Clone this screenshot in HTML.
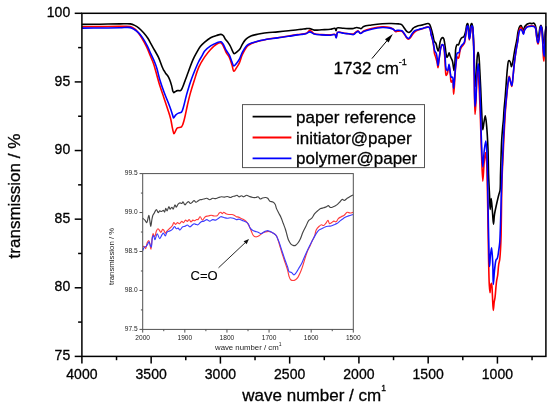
<!DOCTYPE html>
<html><head><meta charset="utf-8"><title>FTIR spectra</title>
<style>html,body{margin:0;padding:0;background:#fff;}svg{display:block;}text{font-family:"Liberation Sans",Arial,Helvetica,sans-serif;fill:#000;stroke:#000;stroke-width:0.3px;}.ins text,text.ins{stroke:none;}</style>
</head><body>
<svg width="550" height="407" viewBox="0 0 550 407">
<rect x="0" y="0" width="550" height="407" fill="#fff"/>
<g fill="none" stroke-linejoin="round" stroke-linecap="round">
<path d="M82.50,24.40C85.42,24.37 93.97,24.28 100.00,24.20C106.44,24.11 114.43,23.94 120.00,23.90C124.00,23.87 127.61,23.45 130.30,23.90C132.10,24.20 133.27,24.71 134.70,25.40C136.24,26.14 137.77,27.14 139.20,28.30C140.74,29.55 142.21,31.12 143.60,32.70C145.05,34.34 146.47,36.14 147.70,38.00C148.94,39.87 149.87,41.88 151.00,43.90C152.20,46.04 153.47,48.29 154.70,50.50C155.94,52.72 157.24,54.73 158.40,57.20C159.74,60.05 161.14,64.41 162.10,66.70C162.66,68.02 163.01,68.90 163.50,69.80C163.91,70.56 164.38,71.13 164.80,71.80C165.21,72.46 165.53,73.16 166.00,73.80C166.49,74.47 167.16,74.91 167.70,75.70C168.41,76.75 169.09,78.21 169.70,79.70C170.42,81.45 171.05,83.62 171.60,85.60C172.15,87.56 172.47,90.34 173.00,91.50C173.25,92.05 173.47,92.54 173.80,92.60C174.14,92.66 174.52,92.08 175.00,91.80C175.67,91.42 176.60,90.80 177.50,90.60C178.43,90.39 179.69,91.04 180.50,90.60C181.40,90.11 181.84,88.81 182.50,87.50C183.49,85.53 184.42,82.31 185.40,79.70C186.39,77.07 187.57,74.08 188.40,71.80C189.03,70.07 189.37,68.91 190.00,67.20C190.81,65.02 191.87,62.10 192.90,59.80C193.84,57.70 194.77,55.96 195.90,53.90C197.19,51.55 198.69,48.57 200.30,46.50C201.67,44.74 203.07,43.51 204.70,42.10C206.47,40.57 208.55,38.82 210.60,37.70C212.50,36.67 214.65,36.07 216.50,35.50C218.09,35.01 219.79,34.26 221.00,34.40C221.88,34.50 222.54,34.89 223.20,35.50C224.07,36.31 224.57,37.99 225.40,39.20C226.26,40.46 227.43,41.65 228.30,42.90C229.12,44.08 229.80,45.16 230.50,46.50C231.31,48.05 232.06,50.42 232.80,51.70C233.28,52.52 233.58,53.48 234.20,53.60C234.96,53.74 236.25,52.47 237.20,51.70C238.23,50.86 239.27,49.87 240.10,48.70C241.00,47.43 241.46,45.74 242.30,44.30C243.18,42.80 244.21,41.10 245.30,39.90C246.23,38.87 247.25,38.11 248.30,37.40C249.32,36.72 250.32,36.15 251.50,35.70C252.82,35.19 254.35,34.95 255.90,34.60C257.63,34.21 259.57,33.82 261.40,33.50C263.20,33.19 264.68,32.93 266.80,32.70C269.80,32.37 274.07,32.22 277.70,31.90C281.34,31.58 285.16,31.19 288.60,30.80C291.69,30.45 295.11,29.94 297.40,29.70C298.86,29.55 299.68,29.55 301.00,29.40C302.64,29.21 304.90,28.72 306.50,28.60C307.74,28.51 308.64,28.41 309.80,28.60C311.18,28.83 312.51,29.87 314.20,30.10C316.36,30.40 319.18,29.84 321.80,29.70C324.60,29.55 328.10,29.51 330.50,29.20C332.22,28.98 333.99,27.83 334.90,28.30C335.61,28.67 335.64,30.81 336.00,30.80C336.38,30.79 336.27,28.43 337.10,27.90C338.30,27.13 341.27,28.19 343.60,28.30C346.31,28.43 350.00,28.86 352.40,28.60C354.10,28.42 355.43,27.52 356.70,27.50C357.70,27.48 358.62,27.89 359.40,28.10C360.01,28.26 360.43,28.70 361.00,28.60C361.82,28.45 362.48,27.05 363.70,26.50C365.54,25.66 368.60,25.44 371.40,25.00C374.71,24.48 378.87,23.94 382.30,23.70C385.36,23.48 388.20,23.46 391.00,23.50C393.62,23.54 396.60,23.58 398.60,23.90C399.94,24.12 400.95,24.14 401.90,24.80C403.01,25.57 403.67,27.40 404.60,28.60C405.50,29.76 406.52,31.28 407.40,31.90C407.95,32.29 408.45,32.58 409.00,32.50C409.70,32.39 410.55,31.48 411.20,30.80C411.89,30.09 412.32,28.95 413.00,28.30C413.60,27.73 414.29,27.39 415.00,27.00C415.75,26.59 416.50,26.18 417.40,25.90C418.46,25.58 419.80,25.58 421.00,25.30C422.23,25.01 423.50,24.51 424.70,24.20C425.83,23.91 427.13,23.40 428.00,23.50C428.61,23.57 429.10,23.78 429.50,24.20C430.03,24.75 430.23,25.78 430.60,26.80C431.10,28.20 431.66,30.30 432.10,31.90C432.48,33.31 432.76,34.46 433.10,35.90C433.49,37.58 433.66,40.10 434.30,41.40C434.73,42.27 435.48,42.47 435.90,43.30C436.47,44.42 436.61,46.32 437.00,47.70C437.35,48.94 437.75,51.20 438.10,51.20C438.41,51.20 438.72,49.56 439.00,48.40C439.44,46.60 439.67,43.18 440.20,41.40C440.55,40.23 440.91,39.26 441.40,38.60C441.75,38.13 442.21,37.59 442.60,37.60C442.98,37.61 443.41,38.10 443.70,38.60C444.16,39.39 444.26,40.87 444.50,42.20C444.80,43.83 445.04,45.80 445.30,47.70C445.58,49.73 445.78,52.21 446.10,54.00C446.34,55.34 446.51,57.44 446.90,57.50C447.22,57.55 447.75,56.23 448.10,55.50C448.49,54.68 448.78,52.79 449.10,52.80C449.42,52.81 449.66,54.60 450.00,55.50C450.35,56.43 450.80,57.38 451.20,58.30C451.60,59.21 452.07,59.90 452.40,61.00C452.88,62.58 453.11,65.27 453.40,67.00C453.62,68.32 453.80,70.50 454.00,70.50C454.23,70.50 454.51,67.80 454.70,66.00C454.99,63.33 455.09,59.18 455.30,56.00C455.49,53.10 455.44,49.79 455.90,47.70C456.19,46.36 456.54,44.77 457.10,44.50C457.44,44.34 457.95,45.05 458.30,44.90C458.83,44.67 459.12,43.11 459.50,42.20C459.89,41.28 460.14,40.19 460.60,39.40C461.00,38.73 461.45,38.14 462.00,37.70C462.52,37.28 463.29,37.39 463.80,36.80C464.66,35.81 465.09,33.35 465.60,31.40C466.18,29.17 466.42,25.08 467.00,24.10C467.19,23.78 467.42,23.55 467.60,23.60C467.92,23.69 468.17,24.83 468.40,25.90C468.88,28.17 468.86,36.76 469.30,36.80C469.55,36.82 469.94,34.68 470.20,33.20C470.60,30.87 470.45,25.23 471.10,24.10C471.30,23.75 471.59,23.53 471.80,23.60C472.21,23.74 472.46,25.40 472.70,26.80C473.13,29.34 473.18,33.42 473.40,37.70C473.72,43.82 474.00,52.25 474.30,60.00C474.63,68.45 474.84,86.48 475.30,86.50C475.56,86.51 475.93,81.50 476.20,78.00C476.64,72.38 476.73,60.21 477.30,56.00C477.53,54.28 477.83,52.41 478.10,52.40C478.33,52.39 478.59,53.76 478.80,55.00C479.29,57.93 479.49,64.77 479.80,70.00C480.13,75.73 480.41,81.57 480.70,88.00C481.04,95.42 481.32,104.60 481.70,112.00C482.03,118.38 482.29,129.78 482.80,129.80C483.14,129.82 483.56,124.45 484.00,122.00C484.40,119.81 484.91,115.79 485.30,115.80C485.79,115.82 486.22,121.62 486.60,125.60C487.19,131.76 487.67,141.16 488.00,149.20C488.35,157.61 488.31,166.78 488.60,175.00C488.86,182.52 489.31,190.34 489.60,196.60C489.82,201.42 489.92,209.39 490.20,209.40C490.46,209.41 490.84,198.60 491.20,198.60C491.60,198.60 492.10,207.98 492.50,212.40C492.87,216.49 493.15,224.20 493.50,224.20C493.82,224.20 494.00,217.58 494.50,214.30C495.00,211.01 495.78,207.76 496.50,204.50C497.22,201.23 498.12,197.24 498.80,194.70C499.24,193.06 499.71,192.50 500.00,190.70C500.57,187.21 500.34,180.34 500.50,175.00C500.67,169.45 500.80,163.75 501.00,158.00C501.20,152.09 501.39,145.39 501.70,140.00C501.95,135.59 502.29,131.59 502.60,128.00C502.86,125.06 503.17,122.82 503.40,120.00C503.65,116.85 503.73,113.56 504.00,110.00C504.31,105.93 504.81,101.67 505.20,96.90C505.67,91.16 506.17,83.27 506.60,77.90C506.92,73.94 507.10,70.68 507.50,67.60C507.83,65.06 507.93,61.04 508.70,60.70C509.08,60.53 509.71,61.06 510.10,61.60C510.79,62.55 510.95,66.69 511.40,66.70C511.82,66.71 512.29,64.16 512.70,62.40C513.32,59.72 513.81,55.38 514.40,52.10C514.95,49.07 515.62,45.81 516.10,43.40C516.44,41.68 516.71,40.67 517.00,39.00C517.38,36.82 517.58,33.64 518.10,31.40C518.53,29.57 519.01,27.43 519.70,26.50C520.08,25.98 520.62,25.50 521.00,25.60C521.50,25.73 521.80,27.28 522.20,28.10C522.60,28.91 523.03,30.53 523.40,30.50C523.84,30.47 524.05,27.90 524.60,26.90C525.06,26.06 525.69,25.34 526.30,24.80C526.81,24.35 527.35,24.07 527.90,23.80C528.42,23.54 528.90,23.26 529.50,23.20C530.23,23.13 531.21,23.62 532.00,23.60C532.71,23.59 533.46,22.97 534.00,23.20C534.58,23.45 534.94,24.30 535.30,25.20C535.89,26.66 536.15,29.45 536.50,31.40C536.81,33.13 536.92,35.13 537.30,36.30C537.53,37.00 537.86,37.93 538.10,37.90C538.47,37.85 538.70,35.37 539.00,33.80C539.40,31.72 539.67,27.92 540.20,26.50C540.44,25.86 540.75,25.18 541.00,25.20C541.30,25.23 541.57,26.40 541.80,27.30C542.18,28.80 542.34,31.27 542.60,33.50C542.91,36.11 543.05,40.17 543.50,42.00C543.73,42.92 544.08,44.03 544.30,44.00C544.74,43.93 544.72,37.91 545.00,35.00C545.26,32.25 545.75,28.33 545.90,27.00" stroke="#000" stroke-width="1.6"/>
<path d="M82.50,26.70C85.42,26.68 93.97,26.65 100.00,26.60C106.44,26.55 114.43,26.37 120.00,26.40C124.00,26.42 127.65,25.90 130.30,26.60C132.15,27.09 133.37,27.98 134.70,29.00C136.08,30.06 137.25,31.46 138.40,32.90C139.63,34.44 140.61,36.04 141.80,38.00C143.32,40.51 145.17,43.82 146.60,46.80C148.00,49.72 149.13,52.88 150.30,55.70C151.36,58.25 152.52,60.84 153.30,63.00C153.90,64.67 154.26,66.01 154.70,67.50C155.13,68.95 155.38,69.96 155.90,71.80C156.83,75.10 158.43,81.20 159.80,85.60C161.07,89.70 162.48,93.46 163.80,97.40C165.12,101.33 166.50,105.44 167.70,109.20C168.79,112.61 169.88,115.70 170.70,119.00C171.51,122.27 171.95,126.19 172.60,128.90C173.06,130.83 173.43,133.74 174.00,133.80C174.46,133.85 175.02,131.78 175.60,130.80C176.19,129.81 176.58,128.55 177.50,127.90C178.50,127.19 180.44,127.86 181.50,126.90C183.02,125.54 183.52,122.03 184.40,119.00C185.54,115.07 186.38,109.61 187.40,105.20C188.35,101.11 189.19,97.44 190.30,93.40C191.50,89.06 192.97,84.40 194.40,80.00C195.81,75.67 197.01,71.16 198.80,67.20C200.48,63.49 202.61,59.98 204.70,56.90C206.57,54.15 208.53,51.67 210.60,49.50C212.48,47.52 214.55,45.40 216.50,44.30C218.01,43.45 219.85,42.53 221.00,42.90C222.01,43.22 222.49,44.59 223.20,45.80C224.20,47.51 225.03,50.45 226.10,52.40C227.02,54.09 228.20,55.12 229.10,56.90C230.23,59.15 231.16,62.46 232.00,65.00C232.73,67.22 233.04,71.15 233.90,71.30C234.59,71.42 235.56,69.17 236.40,67.90C237.39,66.39 238.49,64.75 239.40,62.80C240.50,60.44 241.15,57.14 242.30,54.60C243.37,52.23 244.82,49.63 246.00,48.00C246.79,46.91 247.41,46.24 248.30,45.50C249.23,44.72 250.31,44.06 251.50,43.50C252.82,42.87 254.34,42.48 255.90,42.00C257.62,41.47 259.57,40.97 261.40,40.50C263.20,40.04 264.68,39.60 266.80,39.20C269.79,38.64 274.07,38.23 277.70,37.70C281.34,37.17 285.16,36.54 288.60,36.00C291.69,35.51 294.44,35.05 297.40,34.60C300.41,34.15 304.32,34.32 306.50,33.30C308.02,32.59 308.60,30.34 309.80,30.30C311.14,30.26 312.41,33.07 314.20,33.80C316.29,34.66 319.18,34.42 321.80,34.60C324.60,34.80 328.09,34.99 330.50,34.90C332.22,34.83 333.95,33.84 334.90,34.40C335.73,34.88 335.80,37.53 336.20,37.50C336.71,37.47 336.44,33.08 337.60,32.30C338.83,31.47 341.35,32.76 343.60,33.00C346.49,33.31 350.98,34.70 353.50,34.00C355.35,33.49 356.56,30.73 357.80,30.80C358.83,30.86 359.54,33.24 360.50,33.30C361.50,33.36 362.34,31.69 363.70,31.00C365.66,30.01 368.58,29.17 371.40,28.50C374.69,27.71 378.99,26.88 382.30,26.80C385.06,26.73 387.93,27.04 389.90,27.60C391.27,27.99 392.27,28.50 393.20,29.20C394.08,29.86 394.59,31.33 395.40,31.60C396.05,31.82 396.67,31.28 397.50,31.20C398.69,31.09 400.71,30.63 401.90,31.20C403.08,31.77 403.77,33.45 404.60,34.60C405.40,35.71 406.04,37.18 406.80,38.00C407.35,38.60 407.91,39.32 408.50,39.30C409.17,39.28 409.99,38.20 410.60,37.50C411.23,36.77 411.55,35.88 412.20,35.00C413.01,33.90 414.05,32.38 415.20,31.50C416.27,30.68 417.51,30.30 418.80,29.80C420.20,29.26 421.89,28.87 423.30,28.40C424.57,27.97 425.85,27.28 426.90,27.10C427.68,26.96 428.45,26.76 429.00,27.10C429.64,27.50 429.96,28.68 430.30,29.70C430.72,30.99 430.75,32.66 431.10,34.30C431.51,36.22 432.25,38.32 432.70,40.50C433.19,42.87 433.59,45.69 433.90,48.00C434.17,49.97 434.14,51.83 434.50,53.50C434.81,54.96 435.38,56.05 435.80,57.50C436.29,59.18 436.83,61.22 437.20,63.00C437.55,64.65 437.74,67.80 438.00,67.80C438.34,67.79 438.67,62.62 439.00,60.00C439.34,57.35 439.47,54.58 440.00,52.00C440.51,49.52 441.24,45.06 442.10,44.80C442.53,44.67 443.13,45.30 443.50,46.00C444.33,47.54 444.30,51.72 444.60,55.00C444.96,58.93 445.11,64.26 445.40,68.00C445.62,70.84 445.53,75.34 446.10,75.50C446.38,75.58 446.86,74.75 447.20,74.00C447.92,72.43 448.48,65.98 449.00,66.00C449.51,66.02 449.93,71.32 450.30,74.00C450.67,76.69 450.53,81.90 451.20,82.10C451.54,82.20 452.14,80.39 452.50,80.50C453.42,80.78 453.31,94.30 453.70,94.30C454.18,94.30 454.63,79.88 455.10,74.00C455.46,69.47 455.71,65.13 456.20,62.00C456.52,59.96 456.74,57.15 457.30,57.00C457.63,56.91 458.14,58.40 458.50,58.30C459.28,58.08 459.45,52.16 460.20,50.00C460.71,48.51 461.30,47.50 462.00,46.40C462.67,45.34 463.77,44.65 464.30,43.50C464.89,42.22 464.92,40.61 465.20,39.00C465.52,37.15 465.76,35.04 466.10,33.00C466.46,30.87 466.70,27.00 467.30,26.50C467.48,26.35 467.72,26.34 467.90,26.50C468.77,27.28 468.78,39.98 469.30,40.00C469.70,40.01 470.21,34.42 470.60,32.00C470.93,30.00 470.93,26.72 471.50,26.50C471.77,26.40 472.22,26.78 472.50,27.30C473.33,28.88 473.15,34.03 473.40,39.00C473.83,47.71 473.94,62.73 474.20,75.00C474.47,87.84 474.55,114.39 475.00,114.40C475.22,114.41 475.55,109.00 475.80,105.00C476.23,97.99 476.40,82.65 476.90,76.00C477.16,72.50 477.51,67.99 477.80,68.00C478.22,68.01 478.64,78.68 479.00,85.00C479.46,92.96 479.83,102.23 480.20,112.00C480.64,123.59 480.94,137.97 481.40,150.00C481.82,160.89 482.26,181.09 482.80,181.10C483.22,181.11 483.65,167.26 484.20,162.00C484.59,158.28 485.10,152.50 485.50,152.50C485.90,152.50 486.32,158.14 486.60,162.00C487.04,167.99 487.09,176.28 487.30,185.00C487.58,196.50 487.78,212.11 488.00,225.00C488.21,237.06 488.36,249.31 488.60,260.00C488.80,269.03 488.95,279.06 489.30,285.00C489.50,288.31 489.75,292.70 490.00,292.70C490.25,292.70 490.35,286.62 490.80,285.00C491.02,284.20 491.38,283.26 491.60,283.30C492.15,283.40 492.14,290.83 492.40,295.00C492.70,299.78 492.94,310.39 493.30,310.40C493.57,310.41 493.86,304.33 494.20,302.00C494.45,300.32 494.76,299.47 495.00,297.70C495.39,294.87 495.70,289.67 496.00,286.60C496.22,284.42 496.33,282.89 496.60,281.00C496.89,279.03 497.38,277.29 497.70,275.00C498.12,271.99 498.28,267.33 498.70,264.50C498.99,262.55 499.42,261.60 499.70,259.60C500.13,256.53 500.37,251.82 500.60,247.80C500.84,243.62 500.96,240.32 501.10,235.00C501.33,226.21 501.38,211.02 501.60,200.00C501.79,190.15 502.01,179.73 502.30,172.00C502.51,166.53 502.77,162.96 503.00,158.00C503.27,152.38 503.52,145.73 503.80,140.00C504.06,134.77 504.32,130.00 504.60,125.00C504.88,120.00 505.13,114.98 505.50,110.00C505.87,105.05 506.34,99.89 506.80,95.20C507.21,90.94 507.63,86.47 508.10,83.00C508.45,80.40 508.78,76.22 509.20,76.20C509.56,76.18 509.98,79.35 510.40,81.00C510.85,82.77 511.39,86.53 511.80,86.50C512.38,86.46 512.77,78.88 513.20,75.00C513.64,71.04 513.92,67.04 514.40,63.00C514.89,58.87 515.50,54.43 516.10,50.50C516.64,46.98 517.27,43.88 517.80,40.50C518.34,37.05 518.46,32.30 519.30,30.00C519.76,28.74 520.49,27.28 521.00,27.30C521.45,27.31 521.84,28.64 522.20,29.50C522.67,30.62 523.00,33.50 523.40,33.50C523.80,33.50 524.00,30.66 524.60,29.50C525.14,28.45 525.84,27.38 526.70,26.80C527.50,26.26 528.47,26.14 529.50,26.00C530.73,25.83 532.59,25.58 533.60,26.00C534.37,26.32 534.86,26.81 535.30,27.70C536.13,29.35 536.10,33.35 536.50,36.00C536.87,38.43 537.20,41.74 537.60,43.00C537.76,43.50 537.94,44.02 538.10,44.00C538.43,43.96 538.71,41.30 539.00,39.50C539.43,36.83 539.76,31.90 540.20,29.50C540.45,28.13 540.75,26.29 541.00,26.30C541.29,26.31 541.57,28.78 541.80,30.50C542.16,33.20 542.35,37.08 542.60,41.00C542.92,45.99 543.19,54.61 543.50,58.00C543.63,59.45 543.77,61.10 543.90,61.10C544.16,61.09 544.31,52.83 544.60,48.00C544.95,42.04 545.68,31.33 545.90,28.00" stroke="#ff0000" stroke-width="1.6"/>
<path d="M82.50,28.10C85.42,28.08 93.97,28.05 100.00,28.00C106.44,27.95 114.43,27.88 120.00,27.80C124.00,27.74 127.64,27.00 130.30,27.60C132.14,28.01 133.34,28.94 134.70,29.80C136.03,30.64 137.19,31.53 138.40,32.70C139.80,34.06 141.16,35.68 142.50,37.60C144.17,39.99 145.96,43.26 147.40,46.10C148.77,48.80 149.78,51.50 151.00,54.20C152.22,56.90 153.67,59.76 154.70,62.30C155.58,64.48 156.17,66.11 156.90,68.50C157.87,71.67 158.68,75.94 159.80,79.70C160.97,83.60 162.43,87.77 163.80,91.50C165.06,94.94 166.50,98.20 167.70,101.30C168.78,104.07 169.84,106.75 170.70,109.20C171.44,111.30 172.06,113.48 172.60,115.10C172.98,116.24 173.13,117.94 173.60,118.00C174.11,118.07 174.78,115.92 175.60,115.10C176.42,114.28 177.49,113.60 178.50,113.10C179.46,112.62 180.72,112.84 181.50,112.10C182.50,111.14 182.76,109.21 183.40,107.20C184.38,104.14 185.37,99.14 186.40,95.40C187.34,91.97 188.38,88.54 189.30,85.60C190.06,83.18 190.69,81.26 191.50,79.00C192.37,76.57 193.32,74.14 194.40,71.50C195.62,68.51 197.11,64.80 198.50,62.00C199.65,59.68 200.91,57.74 202.00,55.80C202.96,54.10 203.46,52.53 204.70,51.00C206.18,49.17 208.54,47.18 210.60,45.80C212.49,44.54 214.63,43.58 216.50,42.90C218.07,42.33 219.84,41.44 221.00,41.80C221.98,42.11 222.49,43.23 223.20,44.30C224.20,45.80 225.06,48.41 226.10,50.20C227.04,51.81 228.19,52.88 229.10,54.60C230.21,56.70 231.12,59.92 232.00,62.00C232.65,63.55 233.01,65.85 233.80,66.00C234.51,66.14 235.55,64.50 236.40,63.50C237.43,62.28 238.48,60.77 239.40,59.10C240.48,57.15 241.18,54.52 242.30,52.40C243.39,50.33 244.81,47.89 246.00,46.50C246.79,45.58 247.42,45.06 248.30,44.50C249.24,43.91 250.34,43.54 251.50,43.10C252.84,42.60 254.34,42.14 255.90,41.70C257.62,41.21 259.57,40.72 261.40,40.30C263.20,39.89 264.68,39.54 266.80,39.20C269.79,38.72 274.07,38.38 277.70,37.90C281.34,37.42 285.16,36.83 288.60,36.30C291.69,35.83 295.11,35.21 297.40,34.90C298.86,34.70 299.68,34.69 301.00,34.50C302.64,34.26 304.93,34.01 306.50,33.50C307.77,33.08 308.62,31.89 309.80,31.90C311.16,31.91 312.48,33.60 314.20,34.10C316.34,34.73 319.18,34.72 321.80,34.90C324.60,35.10 328.09,35.32 330.50,35.20C332.22,35.11 333.95,34.04 334.90,34.60C335.75,35.10 335.79,37.92 336.20,37.90C336.71,37.87 336.64,33.25 337.60,32.50C338.28,31.97 339.44,32.38 340.40,32.50C341.44,32.63 342.38,33.09 343.60,33.30C345.18,33.57 347.37,33.57 349.10,33.80C350.65,34.01 352.37,34.89 353.50,34.60C354.36,34.38 354.76,33.51 355.50,33.00C356.34,32.43 357.46,31.30 358.30,31.40C359.12,31.50 359.66,33.42 360.50,33.50C361.44,33.59 362.34,32.02 363.70,31.40C365.66,30.50 368.59,29.82 371.40,29.20C374.70,28.47 378.99,27.63 382.30,27.50C385.05,27.40 387.91,27.70 389.90,28.10C391.25,28.37 392.24,28.71 393.20,29.20C394.05,29.64 394.64,30.65 395.40,30.80C396.08,30.94 396.67,30.35 397.50,30.30C398.69,30.23 400.71,30.15 401.90,30.80C403.07,31.44 403.77,32.98 404.60,34.10C405.40,35.18 406.03,36.64 406.80,37.40C407.35,37.94 407.93,38.57 408.50,38.50C409.20,38.42 409.99,37.13 410.60,36.30C411.23,35.44 411.50,34.32 412.20,33.40C412.99,32.37 414.06,31.17 415.20,30.50C416.28,29.86 417.53,29.75 418.80,29.40C420.21,29.01 421.89,28.69 423.30,28.30C424.57,27.95 425.85,27.36 426.90,27.20C427.68,27.08 428.45,26.87 429.00,27.20C429.64,27.59 429.97,28.71 430.30,29.70C430.73,30.97 430.73,32.71 431.10,34.30C431.51,36.06 432.24,37.89 432.70,39.80C433.18,41.82 433.55,44.15 433.90,46.10C434.20,47.78 434.22,49.49 434.70,50.80C435.09,51.87 435.90,52.42 436.30,53.50C436.81,54.87 436.95,56.69 437.20,58.50C437.50,60.63 437.59,65.49 437.90,65.50C438.20,65.51 438.66,61.37 439.00,59.40C439.32,57.55 439.63,55.82 439.90,54.00C440.17,52.15 440.16,50.07 440.60,48.40C440.98,46.95 441.60,44.67 442.20,44.50C442.54,44.40 442.99,44.82 443.30,45.30C443.93,46.27 444.19,48.83 444.50,50.80C444.85,53.03 444.98,55.40 445.20,58.00C445.46,61.06 445.48,65.96 445.90,68.00C446.09,68.94 446.22,69.59 446.60,70.00C446.88,70.31 447.39,70.66 447.70,70.50C448.41,70.14 448.60,64.39 449.00,64.40C449.47,64.41 449.87,70.57 450.30,72.90C450.60,74.55 450.59,76.56 451.20,77.10C451.54,77.40 452.15,76.85 452.50,77.20C453.53,78.21 453.22,88.20 453.60,88.20C454.07,88.20 454.63,76.58 455.10,71.60C455.49,67.53 455.83,63.81 456.20,60.50C456.50,57.81 456.20,54.37 457.10,53.20C457.59,52.56 458.60,52.98 459.10,52.40C459.85,51.53 459.65,48.97 460.20,47.70C460.62,46.72 461.23,46.00 461.80,45.30C462.30,44.68 462.97,44.24 463.40,43.70C463.77,43.24 464.05,42.93 464.30,42.30C464.70,41.29 464.82,39.53 465.10,38.00C465.42,36.23 465.75,34.25 466.10,32.30C466.48,30.23 466.70,26.40 467.30,25.90C467.48,25.75 467.72,25.74 467.90,25.90C468.62,26.55 468.43,33.50 468.80,35.90C469.01,37.27 469.26,39.11 469.50,39.10C469.86,39.09 470.24,33.75 470.60,31.40C470.90,29.41 470.95,26.09 471.50,25.90C471.77,25.80 472.23,26.24 472.50,26.80C473.31,28.46 473.15,33.72 473.40,38.60C473.80,46.55 473.94,59.14 474.20,70.00C474.48,81.71 474.48,106.47 475.00,106.50C475.22,106.51 475.55,102.93 475.80,100.00C476.32,93.94 476.60,78.57 477.20,72.00C477.53,68.41 477.98,63.69 478.30,63.70C478.75,63.71 479.08,73.99 479.40,80.00C479.80,87.44 480.09,95.97 480.40,105.00C480.77,115.69 480.96,129.09 481.40,140.00C481.79,149.59 482.24,166.99 482.80,167.00C483.24,167.01 483.69,154.75 484.30,150.00C484.74,146.55 485.39,141.08 485.80,141.10C486.25,141.12 486.53,147.52 486.80,152.00C487.23,159.17 487.37,170.19 487.60,180.00C487.85,190.85 487.99,202.75 488.20,214.30C488.42,226.08 488.63,240.37 488.90,250.00C489.08,256.55 489.20,266.49 489.50,266.50C489.74,266.51 490.02,259.28 490.40,256.00C490.74,253.09 491.25,247.79 491.60,247.80C492.10,247.82 492.52,258.69 492.80,264.50C493.11,270.84 492.95,284.39 493.30,284.40C493.60,284.41 494.05,273.95 494.60,269.50C495.05,265.85 495.41,261.15 496.20,259.60C496.50,259.02 496.90,259.16 497.20,258.60C497.91,257.26 498.28,253.33 498.70,250.70C499.11,248.10 499.44,245.83 499.70,242.90C500.03,239.14 500.12,234.51 500.30,230.00C500.49,225.02 500.64,220.10 500.80,214.30C501.00,207.08 501.18,197.49 501.40,190.00C501.59,183.55 501.79,177.62 502.00,172.00C502.19,167.04 502.38,162.96 502.60,158.00C502.85,152.38 503.12,145.73 503.40,140.00C503.66,134.77 503.90,130.00 504.20,125.00C504.50,120.00 504.80,114.98 505.20,110.00C505.60,105.05 506.11,99.88 506.60,95.20C507.05,90.96 507.48,86.42 508.00,83.10C508.37,80.74 508.76,77.12 509.20,77.10C509.57,77.09 509.97,79.97 510.40,81.40C510.83,82.84 511.40,85.74 511.80,85.70C512.43,85.64 512.77,78.31 513.20,74.50C513.64,70.55 513.92,66.43 514.40,62.40C514.88,58.36 515.49,54.06 516.10,50.30C516.63,46.99 517.27,44.13 517.80,41.00C518.34,37.83 518.42,33.37 519.30,31.40C519.76,30.36 520.49,29.28 521.00,29.30C521.45,29.31 521.84,30.32 522.20,31.00C522.66,31.88 523.02,34.21 523.40,34.20C523.82,34.18 524.00,31.29 524.60,30.10C525.14,29.02 525.83,27.90 526.70,27.30C527.49,26.75 528.47,26.64 529.50,26.50C530.73,26.33 532.57,26.17 533.60,26.50C534.34,26.73 534.86,26.98 535.30,27.70C536.16,29.10 536.10,33.02 536.50,35.50C536.87,37.77 537.18,40.89 537.60,42.00C537.76,42.42 537.94,42.83 538.10,42.80C538.43,42.74 538.72,40.37 539.00,38.70C539.44,36.14 539.75,31.19 540.20,28.90C540.45,27.64 540.75,25.99 541.00,26.00C541.28,26.01 541.57,28.16 541.80,29.70C542.17,32.18 542.33,36.03 542.60,39.50C542.90,43.41 543.14,48.90 543.50,52.00C543.71,53.85 544.00,56.41 544.20,56.40C544.59,56.38 544.70,45.15 545.00,40.00C545.27,35.41 545.75,29.17 545.90,27.00" stroke="#0000ff" stroke-width="1.6"/>
</g>
<g stroke="#000" stroke-width="1.5" fill="none">
<rect x="81.9" y="13.3" width="464.0" height="343.1"/>
<line x1="74.7" y1="356.40" x2="81.9" y2="356.40"/>
<line x1="74.7" y1="287.78" x2="81.9" y2="287.78"/>
<line x1="74.7" y1="219.16" x2="81.9" y2="219.16"/>
<line x1="74.7" y1="150.54" x2="81.9" y2="150.54"/>
<line x1="74.7" y1="81.92" x2="81.9" y2="81.92"/>
<line x1="74.7" y1="13.30" x2="81.9" y2="13.30"/>
<line x1="78.1" y1="322.09" x2="81.9" y2="322.09"/>
<line x1="78.1" y1="253.47" x2="81.9" y2="253.47"/>
<line x1="78.1" y1="184.85" x2="81.9" y2="184.85"/>
<line x1="78.1" y1="116.23" x2="81.9" y2="116.23"/>
<line x1="78.1" y1="47.61" x2="81.9" y2="47.61"/>
<line x1="497.42" y1="356.4" x2="497.42" y2="363.6"/>
<line x1="428.17" y1="356.4" x2="428.17" y2="363.6"/>
<line x1="358.91" y1="356.4" x2="358.91" y2="363.6"/>
<line x1="289.66" y1="356.4" x2="289.66" y2="363.6"/>
<line x1="220.41" y1="356.4" x2="220.41" y2="363.6"/>
<line x1="151.15" y1="356.4" x2="151.15" y2="363.6"/>
<line x1="81.90" y1="356.4" x2="81.90" y2="363.6"/>
<line x1="532.05" y1="356.4" x2="532.05" y2="360.2"/>
<line x1="462.80" y1="356.4" x2="462.80" y2="360.2"/>
<line x1="393.54" y1="356.4" x2="393.54" y2="360.2"/>
<line x1="324.29" y1="356.4" x2="324.29" y2="360.2"/>
<line x1="255.03" y1="356.4" x2="255.03" y2="360.2"/>
<line x1="185.78" y1="356.4" x2="185.78" y2="360.2"/>
<line x1="116.53" y1="356.4" x2="116.53" y2="360.2"/>
</g>
<g font-size="14">
<text x="70.2" y="360.0" text-anchor="end">75</text>
<text x="70.2" y="291.4" text-anchor="end">80</text>
<text x="70.2" y="222.8" text-anchor="end">85</text>
<text x="70.2" y="154.1" text-anchor="end">90</text>
<text x="70.2" y="85.5" text-anchor="end">95</text>
<text x="70.2" y="16.9" text-anchor="end">100</text>
<text x="497.42" y="379.1" text-anchor="middle">1000</text>
<text x="428.17" y="379.1" text-anchor="middle">1500</text>
<text x="358.91" y="379.1" text-anchor="middle">2000</text>
<text x="289.66" y="379.1" text-anchor="middle">2500</text>
<text x="220.41" y="379.1" text-anchor="middle">3000</text>
<text x="151.15" y="379.1" text-anchor="middle">3500</text>
<text x="81.90" y="379.1" text-anchor="middle">4000</text>
</g>
<text x="242.3" y="400.6" font-size="17">wave number / cm<tspan font-size="8.5" dy="-9.2">1</tspan></text>
<text transform="translate(20.4,258.4) rotate(-90)" font-size="17">transmission / %</text>
<text x="333.6" y="74.3" font-size="17">1732 cm<tspan font-size="9" dy="-9.6">-1</tspan></text>
<line x1="371.9" y1="58.6" x2="387.5" y2="40.1" stroke="#000" stroke-width="1"/>
<polygon points="392.8,34.0 385.0,39.3 388.6,42.6" fill="#000"/>
<rect x="242.5" y="104.6" width="182" height="63.0" fill="#fff" stroke="#555" stroke-width="1"/>
<line x1="252.6" y1="116.6" x2="291.4" y2="116.6" stroke="#000" stroke-width="1.9"/>
<text x="296.0" y="122.6" font-size="17">paper reference</text>
<line x1="252.6" y1="137.5" x2="291.4" y2="137.5" stroke="#ff0000" stroke-width="1.9"/>
<text x="296.0" y="143.5" font-size="17">initiator@paper</text>
<line x1="252.6" y1="158.4" x2="291.4" y2="158.4" stroke="#0000ff" stroke-width="1.9"/>
<text x="296.0" y="164.4" font-size="17">polymer@paper</text>
<g fill="none" stroke-linejoin="round">
<path d="M142.70,218.30C143.07,218.60 144.23,219.41 144.90,220.10C145.60,220.83 146.30,222.70 146.80,222.60C147.39,222.49 147.63,219.62 148.00,218.30C148.32,217.18 148.63,215.18 148.90,215.20C149.25,215.22 149.49,218.86 149.80,220.70C150.12,222.56 150.47,226.30 150.80,226.30C151.17,226.30 151.51,221.50 151.90,219.50C152.22,217.90 152.43,216.29 152.90,215.20C153.23,214.43 153.71,214.06 154.10,213.40C154.55,212.65 154.92,211.55 155.40,210.90C155.77,210.39 156.21,209.64 156.60,209.70C157.15,209.78 157.63,212.64 158.20,212.70C158.67,212.75 159.11,211.07 159.70,210.90C160.23,210.75 160.91,211.57 161.50,211.50C162.14,211.42 162.88,210.19 163.40,210.30C163.91,210.41 164.24,212.15 164.60,212.10C165.08,212.03 165.34,208.44 165.80,208.40C166.19,208.37 166.65,210.92 167.10,210.90C167.68,210.88 168.35,206.61 168.90,206.60C169.33,206.59 169.58,209.01 170.10,209.10C170.61,209.19 171.47,207.14 172.00,207.20C172.49,207.25 172.79,209.13 173.20,209.10C173.79,209.05 174.42,204.83 175.00,204.80C175.44,204.78 175.82,207.19 176.30,207.20C176.84,207.21 177.39,204.84 178.10,204.10C178.66,203.52 179.36,202.98 180.00,202.90C180.59,202.83 181.31,203.67 181.80,203.50C182.32,203.32 182.56,201.69 183.00,201.70C183.57,201.71 184.23,204.73 184.90,204.80C185.47,204.86 186.06,203.43 186.70,202.90C187.30,202.41 188.00,201.63 188.60,201.70C189.24,201.77 189.76,203.43 190.40,203.50C191.00,203.57 191.70,202.78 192.30,202.30C192.94,201.79 193.50,200.50 194.10,200.50C194.70,200.50 195.26,202.23 195.90,202.30C196.50,202.37 197.14,201.50 197.80,201.10C198.50,200.67 199.31,200.04 200.00,199.80C200.53,199.62 200.95,199.71 201.50,199.60C202.19,199.46 202.98,199.20 203.80,199.00C204.73,198.77 205.83,198.19 206.80,198.30C207.79,198.41 208.72,199.69 209.70,199.70C210.69,199.71 211.68,198.47 212.70,198.30C213.65,198.14 214.64,198.72 215.60,198.60C216.61,198.47 217.60,197.80 218.60,197.50C219.57,197.21 220.52,196.87 221.50,196.80C222.49,196.73 223.51,197.15 224.50,197.10C225.48,197.05 226.43,196.44 227.40,196.50C228.40,196.56 229.49,197.55 230.40,197.50C231.20,197.46 231.85,196.73 232.60,196.50C233.32,196.27 234.07,196.30 234.80,196.10C235.54,195.90 236.29,195.21 237.00,195.30C237.76,195.40 238.45,196.74 239.20,196.80C239.92,196.86 240.66,195.81 241.40,195.80C242.16,195.79 242.90,196.83 243.70,196.80C244.62,196.77 245.62,195.34 246.60,195.30C247.56,195.26 248.48,196.14 249.50,196.50C250.58,196.88 251.79,197.34 252.90,197.50C253.92,197.65 254.99,197.64 255.90,197.50C256.70,197.38 257.41,196.63 258.10,196.80C258.90,196.99 259.51,198.86 260.30,199.00C260.99,199.13 261.69,198.25 262.50,198.00C263.41,197.72 264.59,197.42 265.50,197.50C266.30,197.57 267.03,197.81 267.70,198.30C268.53,198.91 268.99,200.59 269.90,201.20C270.75,201.77 272.03,201.50 272.90,202.00C273.77,202.50 274.52,203.25 275.10,204.20C275.80,205.35 275.91,207.16 276.50,208.60C277.11,210.09 277.95,211.54 278.70,213.00C279.45,214.47 280.29,215.80 281.00,217.40C281.80,219.20 282.47,221.33 283.20,223.30C283.93,225.27 284.76,227.23 285.40,229.20C286.02,231.13 286.48,233.16 287.00,235.00C287.48,236.68 287.76,238.31 288.40,239.80C289.01,241.23 289.80,242.83 290.70,243.80C291.41,244.56 292.26,245.15 293.10,245.40C293.87,245.63 294.76,245.71 295.50,245.40C296.38,245.03 297.15,243.96 297.90,243.00C298.77,241.88 299.55,240.55 300.30,239.00C301.24,237.07 301.94,234.36 302.90,232.20C303.82,230.14 304.92,228.27 305.90,226.30C306.88,224.34 307.63,221.80 308.80,220.40C309.68,219.35 310.89,219.17 311.80,218.20C312.89,217.04 313.65,214.98 314.70,213.70C315.63,212.57 316.68,211.67 317.70,210.80C318.65,209.98 319.57,209.10 320.60,208.60C321.55,208.14 322.61,208.10 323.60,207.80C324.58,207.50 325.67,207.21 326.50,206.80C327.20,206.45 327.71,205.55 328.30,205.60C328.95,205.66 329.43,207.18 330.20,207.40C331.04,207.64 332.18,207.16 333.20,206.80C334.38,206.38 335.71,205.69 336.80,204.90C337.91,204.10 338.84,202.94 339.80,202.00C340.70,201.11 341.58,199.50 342.40,199.40C343.02,199.33 343.53,200.53 344.20,200.50C345.08,200.46 346.20,198.98 347.20,198.30C348.16,197.65 349.12,197.06 350.10,196.50C351.06,195.96 352.52,195.25 353.00,195.00" stroke="#444" stroke-width="1.15"/>
<path d="M142.80,246.40C143.05,246.45 143.86,246.42 144.30,246.70C144.85,247.05 145.29,248.68 145.70,248.60C146.35,248.47 146.55,244.15 147.20,242.70C147.63,241.74 148.28,240.45 148.70,240.50C149.16,240.55 149.48,242.25 149.80,243.40C150.25,245.00 150.57,249.31 150.90,249.30C151.32,249.29 151.58,242.55 152.00,239.70C152.34,237.40 152.66,233.53 153.10,233.50C153.43,233.48 153.76,236.73 154.20,236.80C154.53,236.85 154.98,235.97 155.30,235.30C155.79,234.25 155.87,232.08 156.40,230.90C156.80,230.00 157.37,228.75 157.90,228.70C158.37,228.66 158.94,229.62 159.40,230.20C159.91,230.84 160.30,232.40 160.80,232.40C161.39,232.40 162.09,229.52 162.70,229.40C163.08,229.33 163.45,229.79 163.80,230.20C164.34,230.83 164.77,233.05 165.30,233.10C165.74,233.14 166.16,231.91 166.70,231.30C167.33,230.58 168.15,229.79 168.90,229.10C169.62,228.43 170.47,227.88 171.10,227.20C171.69,226.57 172.16,225.94 172.60,225.20C173.07,224.41 173.27,222.70 173.80,222.60C174.31,222.50 175.08,224.41 175.70,224.40C176.31,224.39 176.87,222.66 177.50,222.60C178.08,222.54 178.67,223.86 179.30,223.80C180.09,223.73 181.01,221.47 181.80,221.40C182.43,221.34 183.03,222.70 183.60,222.60C184.28,222.49 184.82,220.20 185.50,220.10C186.07,220.02 186.71,221.45 187.30,221.40C187.95,221.35 188.60,219.45 189.20,219.50C189.84,219.55 190.36,221.95 191.00,222.00C191.60,222.05 192.22,220.26 192.90,220.10C193.47,219.97 194.11,220.77 194.70,220.70C195.34,220.62 196.00,219.65 196.60,219.50C197.05,219.39 197.46,219.79 197.90,219.60C198.64,219.28 199.47,216.66 200.20,216.70C200.97,216.74 201.58,220.05 202.40,220.10C203.27,220.16 204.20,217.37 205.30,216.70C206.21,216.15 207.31,216.25 208.30,216.00C209.28,215.75 210.22,215.20 211.20,215.20C212.19,215.20 213.20,215.92 214.20,216.00C215.17,216.08 216.27,216.15 217.10,215.70C218.00,215.21 218.57,213.57 219.30,213.00C219.80,212.61 220.32,212.22 220.80,212.30C221.33,212.38 221.81,213.71 222.30,213.70C222.78,213.69 223.15,212.37 223.70,212.30C224.35,212.22 225.16,213.34 226.00,213.70C226.89,214.08 227.92,214.37 228.90,214.50C229.88,214.63 230.99,214.36 231.90,214.50C232.70,214.62 233.39,214.85 234.10,215.20C234.86,215.57 235.53,216.38 236.30,216.70C237.00,216.99 237.78,216.86 238.50,217.10C239.25,217.35 239.91,217.82 240.70,218.20C241.62,218.64 242.80,219.09 243.70,219.60C244.51,220.06 245.22,220.44 245.90,221.10C246.71,221.88 247.43,223.02 248.10,224.10C248.81,225.24 249.43,226.55 250.00,227.80C250.56,229.02 250.99,230.29 251.50,231.50C251.99,232.69 252.40,234.14 253.00,235.00C253.44,235.63 253.91,236.10 254.50,236.40C255.10,236.71 255.89,236.87 256.60,236.80C257.39,236.72 258.22,236.26 259.00,235.80C259.86,235.29 260.69,234.36 261.50,233.80C262.19,233.32 262.82,232.92 263.50,232.60C264.15,232.29 264.76,232.09 265.50,231.90C266.37,231.67 267.43,231.36 268.40,231.40C269.40,231.44 270.43,231.82 271.40,232.20C272.40,232.59 273.44,233.07 274.30,233.70C275.14,234.31 275.91,234.99 276.50,235.90C277.19,236.96 277.47,238.26 278.00,239.80C278.75,241.98 279.60,245.14 280.40,247.80C281.20,250.44 281.98,253.13 282.80,255.70C283.58,258.16 284.40,260.50 285.20,262.90C286.00,265.30 286.94,267.76 287.60,270.10C288.22,272.28 288.47,274.76 289.10,276.50C289.56,277.78 289.94,279.04 290.70,279.70C291.34,280.25 292.30,280.50 293.10,280.50C293.90,280.50 294.75,280.16 295.50,279.70C296.37,279.16 297.17,278.31 297.90,277.30C298.81,276.03 299.54,274.24 300.30,272.50C301.15,270.54 301.94,268.37 302.70,266.10C303.54,263.60 304.28,260.68 305.10,258.10C305.88,255.66 306.62,253.11 307.50,251.00C308.24,249.22 309.12,247.87 309.90,246.20C310.73,244.42 311.47,242.38 312.30,240.60C313.08,238.93 314.06,237.52 314.70,235.80C315.38,233.97 315.36,231.55 316.20,229.90C316.94,228.45 318.22,227.19 319.20,226.30C319.94,225.63 320.64,224.91 321.40,224.80C322.11,224.70 322.91,225.67 323.60,225.50C324.40,225.31 325.09,224.11 325.80,223.30C326.56,222.42 327.38,220.33 328.00,220.40C328.61,220.46 328.79,223.34 329.50,223.60C330.09,223.82 330.98,223.00 331.70,222.60C332.45,222.18 333.14,221.21 333.90,221.10C334.61,221.00 335.44,222.03 336.10,221.80C336.96,221.51 337.41,219.46 338.30,218.60C339.15,217.78 340.30,217.28 341.30,216.70C342.26,216.15 343.27,215.87 344.20,215.20C345.25,214.45 346.12,212.59 347.20,212.30C348.11,212.05 349.13,213.00 350.10,213.00C351.07,213.00 352.52,212.42 353.00,212.30" stroke="#ff3c3c" stroke-width="1.15"/>
<path d="M142.80,250.40C143.05,249.85 143.61,247.75 144.30,247.10C144.80,246.63 145.58,246.81 146.10,246.40C146.71,245.91 147.12,244.95 147.60,244.20C148.08,243.45 148.58,241.87 149.00,241.90C149.46,241.94 149.79,243.99 150.20,244.90C150.56,245.70 150.99,247.15 151.30,247.10C151.91,246.99 151.79,239.54 152.40,237.50C152.71,236.47 153.14,235.27 153.50,235.30C153.99,235.34 154.35,239.68 154.90,239.70C155.55,239.72 156.36,233.85 157.20,233.80C157.97,233.76 158.87,238.58 159.70,238.60C160.44,238.62 161.20,235.89 161.90,234.90C162.42,234.17 162.89,233.07 163.40,233.10C164.02,233.14 164.71,236.05 165.30,236.00C165.96,235.95 166.32,232.74 167.10,232.00C167.62,231.51 168.29,231.55 168.90,231.30C169.53,231.05 170.20,230.85 170.80,230.50C171.43,230.13 172.03,229.69 172.60,229.10C173.28,228.40 173.86,226.52 174.50,226.50C175.10,226.48 175.63,228.50 176.30,228.70C176.85,228.86 177.53,227.97 178.10,228.10C178.78,228.26 179.35,230.04 180.00,230.00C180.78,229.95 181.47,227.50 182.40,226.90C183.15,226.42 184.09,226.61 184.90,226.30C185.73,225.98 186.51,224.94 187.30,225.00C188.15,225.07 188.97,226.90 189.80,226.90C190.63,226.90 191.53,225.55 192.30,225.00C192.94,224.54 193.48,223.88 194.10,223.80C194.68,223.72 195.28,224.24 195.90,224.40C196.54,224.57 197.22,225.00 197.90,224.80C198.87,224.51 199.83,222.51 200.90,221.90C201.81,221.38 202.84,221.47 203.80,221.10C204.81,220.71 205.81,219.59 206.80,219.60C207.78,219.61 208.72,221.09 209.70,221.10C210.69,221.11 211.68,219.75 212.70,219.60C213.65,219.46 214.66,220.29 215.60,220.10C216.63,219.89 217.68,218.80 218.60,218.20C219.39,217.68 219.93,216.85 220.80,216.70C221.84,216.52 223.34,217.44 224.50,217.70C225.52,217.93 226.42,218.20 227.40,218.20C228.39,218.20 229.41,217.70 230.40,217.70C231.38,217.70 232.34,217.90 233.30,218.20C234.31,218.52 235.29,219.45 236.30,219.60C237.25,219.74 238.24,219.08 239.20,219.20C240.21,219.32 241.21,220.00 242.20,220.40C243.18,220.80 244.15,221.09 245.10,221.60C246.12,222.14 247.31,222.67 248.10,223.60C249.00,224.66 249.22,226.68 250.00,227.80C250.64,228.72 251.35,229.40 252.20,230.00C253.08,230.61 254.19,231.03 255.20,231.40C256.16,231.75 257.14,231.83 258.10,232.20C259.11,232.59 260.12,233.75 261.10,233.70C262.09,233.65 263.00,232.40 264.00,231.90C264.97,231.41 266.00,230.77 267.00,230.70C267.96,230.63 268.94,231.05 269.90,231.40C270.91,231.77 271.94,232.30 272.90,232.90C273.90,233.52 274.94,234.04 275.80,235.10C277.00,236.57 277.85,239.05 278.80,241.40C279.94,244.23 280.93,247.81 282.00,251.00C283.06,254.18 284.19,257.65 285.20,260.50C286.04,262.85 286.92,264.91 287.60,266.90C288.19,268.61 288.23,270.82 289.10,271.70C289.72,272.33 290.75,272.04 291.50,272.50C292.37,273.04 293.10,274.90 293.90,274.90C294.70,274.90 295.55,273.46 296.30,272.50C297.17,271.38 297.85,269.95 298.70,268.50C299.70,266.79 300.96,264.79 301.90,262.90C302.82,261.06 303.43,259.27 304.30,257.30C305.28,255.07 306.41,252.49 307.50,250.20C308.55,248.00 309.68,245.80 310.70,243.80C311.60,242.03 312.40,240.48 313.30,238.80C314.23,237.08 315.15,235.15 316.20,233.60C317.14,232.22 318.10,230.77 319.20,229.90C320.10,229.19 321.13,228.98 322.10,228.50C323.09,228.01 324.09,227.37 325.10,227.00C326.06,226.65 327.03,226.47 328.00,226.30C328.96,226.14 329.94,226.24 330.90,226.00C331.91,225.75 332.91,225.20 333.90,224.80C334.88,224.40 335.87,224.16 336.80,223.60C337.84,222.97 338.80,221.90 339.80,221.10C340.77,220.33 341.71,219.57 342.70,218.90C343.67,218.24 344.69,217.61 345.70,217.10C346.66,216.62 347.52,216.29 348.60,215.90C349.91,215.42 352.27,214.73 353.00,214.50" stroke="#3c3cff" stroke-width="1.15"/>
</g>
<g stroke="#505050" stroke-width="1" fill="none">
<rect x="142.7" y="173.6" width="210.6" height="155.8"/>
<line x1="139.5" y1="329.40" x2="142.7" y2="329.40"/>
<line x1="139.5" y1="290.45" x2="142.7" y2="290.45"/>
<line x1="139.5" y1="251.50" x2="142.7" y2="251.50"/>
<line x1="139.5" y1="212.55" x2="142.7" y2="212.55"/>
<line x1="139.5" y1="173.60" x2="142.7" y2="173.60"/>
<line x1="140.9" y1="309.92" x2="142.7" y2="309.92"/>
<line x1="140.9" y1="270.97" x2="142.7" y2="270.97"/>
<line x1="140.9" y1="232.02" x2="142.7" y2="232.02"/>
<line x1="140.9" y1="193.07" x2="142.7" y2="193.07"/>
<line x1="353.30" y1="329.4" x2="353.30" y2="332.6"/>
<line x1="311.18" y1="329.4" x2="311.18" y2="332.6"/>
<line x1="269.06" y1="329.4" x2="269.06" y2="332.6"/>
<line x1="226.94" y1="329.4" x2="226.94" y2="332.6"/>
<line x1="184.82" y1="329.4" x2="184.82" y2="332.6"/>
<line x1="142.70" y1="329.4" x2="142.70" y2="332.6"/>
<line x1="332.24" y1="329.4" x2="332.24" y2="331.2"/>
<line x1="290.12" y1="329.4" x2="290.12" y2="331.2"/>
<line x1="248.00" y1="329.4" x2="248.00" y2="331.2"/>
<line x1="205.88" y1="329.4" x2="205.88" y2="331.2"/>
<line x1="163.76" y1="329.4" x2="163.76" y2="331.2"/>
</g>
<g class="ins" font-size="6.6" fill="#222">
<text x="137.6" y="331.1" text-anchor="end" style="fill:#222">97.5</text>
<text x="137.6" y="292.1" text-anchor="end" style="fill:#222">98.0</text>
<text x="137.6" y="253.2" text-anchor="end" style="fill:#222">98.5</text>
<text x="137.6" y="214.2" text-anchor="end" style="fill:#222">99.0</text>
<text x="137.6" y="175.3" text-anchor="end" style="fill:#222">99.5</text>
<text x="353.30" y="339.7" text-anchor="middle" style="fill:#222">1500</text>
<text x="311.18" y="339.7" text-anchor="middle" style="fill:#222">1600</text>
<text x="269.06" y="339.7" text-anchor="middle" style="fill:#222">1700</text>
<text x="226.94" y="339.7" text-anchor="middle" style="fill:#222">1800</text>
<text x="184.82" y="339.7" text-anchor="middle" style="fill:#222">1900</text>
<text x="142.70" y="339.7" text-anchor="middle" style="fill:#222">2000</text>
</g>
<text class="ins" x="215.0" y="349.6" font-size="7.8" style="fill:#222">wave number / cm<tspan font-size="5" dy="-4">1</tspan></text>
<text class="ins" transform="translate(114.2,285.0) rotate(-90)" font-size="7.8" style="fill:#222">transmission / %</text>
<text x="190.6" y="279.6" font-size="13" style="stroke-width:0.15px">C=O</text>
<line x1="218.5" y1="267.8" x2="245.5" y2="242.4" stroke="#111" stroke-width="0.9"/>
<polygon points="249.0,239.1 243.6,241.3 246.6,244.3" fill="#111"/>
</svg>
</body></html>
